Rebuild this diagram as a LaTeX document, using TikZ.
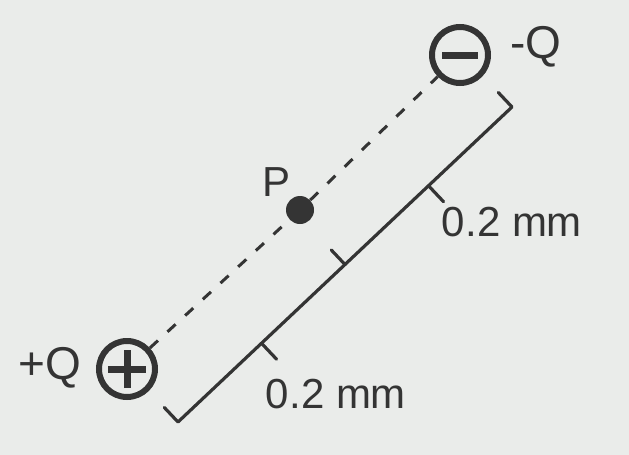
\documentclass[tikz,border=0pt]{standalone}
\usepackage{fontspec}
\setmainfont{Liberation Sans}
\usetikzlibrary{calc}
\definecolor{bg}{RGB}{234,236,234}
\definecolor{ink}{RGB}{52,52,52}
\begin{document}
\begin{tikzpicture}[x=1pt,y=-1pt,
  charge/.style={circle,draw=ink,line width=6pt,minimum size=56pt,inner sep=0pt},
  sign/.style={draw=ink,line width=7pt},
  lbl/.style={text=ink,inner sep=0pt,font=\fontsize{42}{50}\selectfont},
  qlbl/.style={text=ink,inner sep=0pt,font=\fontsize{46}{54}\selectfont},
  dim/.style={draw=ink,line width=3.2pt,line join=round,line cap=round},
  conn/.style={draw=ink,line width=3pt,dash pattern=on 11pt off 13pt}]
\fill[bg] (0,0) rectangle (629,455);
\useasboundingbox (0,0) rectangle (629,455);
% charges
\node[charge] (plus) at (127,369) {};
\node[charge] (minus) at (460,55) {};
\draw[sign] ([xshift=-19pt]plus.center) -- ([xshift=19pt]plus.center);
\draw[sign] ([yshift=-19pt]plus.center) -- ([yshift=19pt]plus.center);
\draw[sign] ([xshift=-18pt]minus.center) -- ([xshift=18pt]minus.center);
% point P
\node[circle,fill=ink,minimum size=28pt,inner sep=0pt] (P) at (300,210) {};
\draw[conn] (plus) -- (P) -- (minus);
% dimension line
\coordinate (A) at (178,422);
\coordinate (B) at (512,107);
\coordinate (M) at ($(A)!0.5!(B)$);
\coordinate (L1) at ($(A)!0.5!(M)$);
\coordinate (L2) at ($(M)!0.5!(B)$);
\coordinate (At) at ($(A)!20pt!90:(B)$);
\coordinate (Bt) at ($(B)!20pt!-90:(A)$);
\coordinate (Mt) at ($(M)!20pt!90:(B)$);
\coordinate (L1t) at ($(L1)!22pt!-90:(B)$);
\coordinate (L2t) at ($(L2)!22pt!-90:(B)$);
\draw[dim] (At) -- (A) -- (B) -- (Bt);
\draw[dim] (M) -- (Mt);
\draw[dim] (L1) -- (L1t);
\draw[dim] (L2) -- (L2t);
% labels
\node[lbl] (Plbl) at (277,182) {P};
\node[lbl] (d1) at (512,222) {0.2 mm};
\node[lbl] (d2) at (336,394) {0.2 mm};
\node[qlbl] (qp) at (50,368) {+Q};
\node[qlbl] (qm) at (536,47) {-Q};
\end{tikzpicture}
\end{document}
